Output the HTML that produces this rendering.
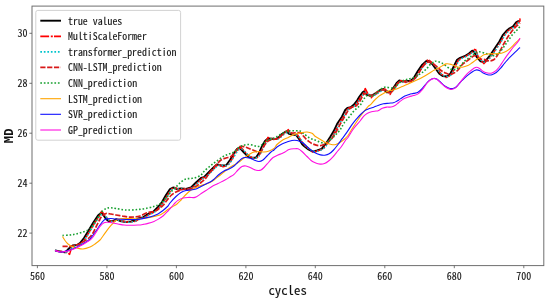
<!DOCTYPE html>
<html lang="en">
<head>
<meta charset="utf-8">
<title>MD prediction over cycles</title>
<style>
html,body{margin:0;padding:0;background:#fff;}
body{width:550px;height:301px;overflow:hidden;}
svg{display:block;}
svg text{font-family:"Noto Sans Mono CJK SC", "WenQuanYi Zen Hei Mono", "IPAGothic", "Liberation Mono", monospace;fill:#111;stroke:#111;stroke-width:0.1px;}
.tick text{font-size:10.6px;}
.legend text{font-size:10.4px;}
</style>
</head>
<body>
<svg width="550" height="301" viewBox="0 0 550 301">
<rect x="0" y="0" width="550" height="301" fill="#fff"/>
<g fill="none" stroke-linecap="butt">
<path d="M55.0,250.4 L60.0,251.5 L65.0,252.4 L67.5,250.0 L70.0,247.4 L73.0,245.4 L77.0,245.0 L80.0,243.0 L84.0,238.0 L88.0,231.4 L93.0,223.0 L98.0,215.5 L101.5,212.5 L104.0,216.0 L106.0,219.0 L109.0,221.5 L113.0,221.0 L116.0,219.2 L120.0,221.0 L126.0,222.0 L131.0,221.5 L136.0,220.0 L138.0,218.4 L143.0,217.4 L148.0,214.0 L153.0,212.0 L158.0,207.0 L162.0,202.0 L166.0,195.0 L170.0,189.0 L173.0,187.5 L177.0,189.0 L181.0,188.5 L186.0,189.0 L191.0,187.5 L196.0,182.5 L201.0,178.0 L204.0,177.2 L209.0,172.0 L214.0,167.0 L217.0,164.5 L221.0,165.5 L226.0,165.5 L230.0,160.0 L234.0,153.0 L237.0,149.0 L239.5,147.5 L244.0,152.5 L248.0,156.5 L252.0,158.0 L256.0,157.5 L259.0,153.0 L262.0,146.0 L265.0,141.0 L268.0,138.5 L272.0,138.7 L276.0,139.0 L279.0,137.0 L282.0,134.0 L285.0,132.0 L287.0,131.5 L288.5,133.5 L292.0,134.5 L296.0,135.0 L299.0,139.0 L302.0,144.0 L304.0,146.1 L308.4,149.4 L312.8,151.6 L317.2,150.5 L321.6,148.8 L326.0,143.4 L330.3,136.8 L333.6,131.3 L337.5,123.2 L341.9,116.7 L345.2,110.0 L347.4,107.9 L350.7,107.3 L354.0,104.6 L357.2,100.2 L359.3,96.7 L362.6,92.3 L364.2,91.2 L367.0,95.0 L371.4,95.6 L375.7,93.4 L380.1,90.1 L383.4,89.0 L386.7,92.3 L390.0,92.3 L393.3,87.9 L396.6,82.9 L399.3,80.5 L402.6,81.6 L407.0,81.0 L410.3,81.0 L413.6,78.3 L418.0,70.7 L422.3,64.6 L426.7,60.8 L428.9,61.3 L432.2,64.0 L435.5,68.5 L439.3,73.8 L442.6,76.0 L447.0,76.5 L450.3,73.8 L453.6,66.7 L456.8,60.1 L460.1,57.9 L464.5,56.2 L468.9,53.5 L472.2,50.7 L473.9,51.3 L476.6,56.8 L480.6,61.4 L483.9,62.0 L486.0,60.3 L490.5,54.8 L494.8,48.3 L499.2,41.7 L503.0,34.8 L506.3,31.0 L509.6,28.3 L512.8,26.7 L516.1,22.3 L518.3,21.2 L520.0,21.7" stroke="#000" stroke-width="1.9" stroke-linejoin="round"/>
<path d="M55.0,250.4 L61.6,251.5 L66.6,252.4 L69.6,254.4 L71.6,247.4 L74.6,245.4 L78.6,245.0 L81.6,243.0 L85.6,238.0 L89.6,231.4 L94.6,223.0 L99.6,215.5 L101.7,211.2 L105.6,216.0 L107.6,219.0 L110.6,221.5 L114.6,221.0 L117.6,219.2 L121.6,221.0 L127.6,222.0 L132.6,221.5 L136.0,221.2 L139.6,218.4 L144.6,217.4 L149.6,214.0 L154.6,212.0 L159.6,207.0 L163.6,202.0 L167.6,195.0 L171.6,189.0 L174.6,187.5 L180.0,190.0 L182.6,188.5 L187.6,189.0 L192.6,187.5 L197.6,182.5 L202.6,178.0 L205.6,177.2 L210.6,172.0 L215.6,167.0 L218.6,164.5 L223.0,166.8 L227.6,165.5 L231.6,160.0 L235.6,153.0 L238.6,149.0 L241.1,147.5 L245.6,152.5 L249.6,156.5 L253.6,158.0 L257.6,157.5 L260.6,153.0 L263.6,146.0 L268.0,137.3 L269.6,138.5 L273.6,138.7 L277.6,139.0 L280.6,137.0 L283.6,134.0 L286.6,132.0 L288.3,129.5 L290.1,133.5 L293.6,134.5 L297.6,135.0 L301.0,140.5 L303.6,144.0 L305.6,146.1 L310.0,149.4 L313.0,152.5 L318.8,150.5 L323.2,148.8 L327.6,143.4 L331.9,136.8 L335.2,131.3 L339.1,123.2 L343.5,116.7 L346.8,110.0 L349.0,107.9 L352.3,107.3 L355.6,104.6 L358.8,100.2 L360.9,96.7 L364.2,92.3 L365.2,88.4 L368.6,95.0 L371.3,97.7 L373.0,95.6 L377.3,93.4 L381.7,90.1 L385.0,89.0 L388.3,92.3 L390.0,94.5 L391.6,92.3 L394.9,87.9 L398.2,82.9 L400.9,80.5 L404.2,81.6 L406.0,82.5 L408.6,81.0 L411.9,81.0 L415.2,78.3 L419.6,70.7 L423.9,64.6 L428.3,59.5 L430.5,61.3 L433.8,64.0 L437.1,68.5 L440.9,73.8 L444.2,76.0 L446.0,77.5 L448.6,76.5 L451.9,73.8 L455.2,66.7 L458.4,60.1 L461.7,57.9 L466.1,56.2 L470.5,53.5 L473.8,50.7 L475.2,48.3 L478.2,56.8 L483.8,63.6 L485.5,62.0 L487.6,60.3 L492.1,54.8 L496.4,48.3 L500.8,41.7 L504.6,34.8 L507.9,31.0 L511.2,28.3 L514.4,26.7 L517.7,22.3 L519.9,21.2 L520.0,18.4" stroke="#ff0000" stroke-width="1.5" stroke-dasharray="8.8 1.7 2.0 1.2" stroke-linejoin="round"/>
<path d="M55.0,250.4 L56.5,250.6 L58.0,250.9 L59.5,251.3 L61.0,251.6 L62.5,251.9 L64.0,252.2 L65.5,252.4 L67.0,252.1 L68.5,251.1 L70.0,249.7 L71.5,248.3 L73.0,247.0 L74.5,246.2 L76.0,245.7 L77.5,245.4 L79.0,245.0 L80.5,244.2 L82.0,242.9 L83.5,241.3 L85.0,239.3 L86.5,237.2 L88.0,234.8 L89.5,232.3 L91.0,229.8 L92.5,227.3 L94.0,224.8 L95.5,222.5 L97.0,220.2 L98.5,217.9 L100.0,216.0 L101.5,214.4 L103.0,214.0 L104.5,214.6 L106.0,216.5 L107.5,218.5 L109.0,220.1 L110.5,221.1 L112.0,221.5 L113.5,221.5 L115.0,221.0 L116.5,220.4 L118.0,220.0 L119.5,220.2 L121.0,220.8 L122.5,221.3 L124.0,221.7 L125.5,221.9 L127.0,222.1 L128.5,222.2 L130.0,222.1 L131.5,221.9 L133.0,221.7 L134.5,221.3 L136.0,220.9 L137.5,220.2 L139.0,219.5 L140.5,218.8 L142.0,218.3 L143.5,218.0 L145.0,217.4 L146.5,216.6 L148.0,215.6 L149.5,214.7 L151.0,213.9 L152.5,213.3 L154.0,212.5 L155.5,211.5 L157.0,210.2 L158.5,208.7 L160.0,207.1 L161.5,205.3 L163.0,203.3 L164.5,201.1 L166.0,198.6 L167.5,196.1 L169.0,193.7 L170.5,191.4 L172.0,189.7 L173.5,188.5 L175.0,188.2 L176.5,188.4 L178.0,188.9 L179.5,189.1 L181.0,189.0 L182.5,188.9 L184.0,188.9 L185.5,189.1 L187.0,189.1 L188.5,189.0 L190.0,188.7 L191.5,188.2 L193.0,187.4 L194.5,186.2 L196.0,184.7 L197.5,183.2 L199.0,181.8 L200.5,180.5 L202.0,179.2 L203.5,178.3 L205.0,177.6 L206.5,176.6 L208.0,175.3 L209.5,173.8 L211.0,172.2 L212.5,170.7 L214.0,169.2 L215.5,167.8 L217.0,166.4 L218.5,165.5 L220.0,165.2 L221.5,165.4 L223.0,165.7 L224.5,165.8 L226.0,165.8 L227.5,165.3 L229.0,164.1 L230.5,162.2 L232.0,160.0 L233.5,157.5 L235.0,155.0 L236.5,152.6 L238.0,150.6 L239.5,149.2 L241.0,148.7 L242.5,149.3 L244.0,150.7 L245.5,152.3 L247.0,153.9 L248.5,155.4 L250.0,156.5 L251.5,157.4 L253.0,157.9 L254.5,158.1 L256.0,158.0 L257.5,157.3 L259.0,156.0 L260.5,153.6 L262.0,150.6 L263.5,147.5 L265.0,144.6 L266.5,142.3 L268.0,140.5 L269.5,139.5 L271.0,139.0 L272.5,138.9 L274.0,139.0 L275.5,139.1 L277.0,139.1 L278.5,138.7 L280.0,137.8 L281.5,136.6 L283.0,135.3 L284.5,134.0 L286.0,133.0 L287.5,132.3 L289.0,132.6 L290.5,133.3 L292.0,134.3 L293.5,134.6 L295.0,134.9 L296.5,135.2 L298.0,136.0 L299.5,137.4 L301.0,139.6 L302.5,141.9 L304.0,144.1 L305.5,145.9 L307.0,147.2 L308.5,148.4 L310.0,149.4 L311.5,150.3 L313.0,151.1 L314.5,151.5 L316.0,151.5 L317.5,151.2 L319.0,150.8 L320.5,150.3 L322.0,149.7 L323.5,148.7 L325.0,147.3 L326.5,145.4 L328.0,143.4 L329.5,141.2 L331.0,138.9 L332.5,136.5 L334.0,134.1 L335.5,131.4 L337.0,128.5 L338.5,125.5 L340.0,122.8 L341.5,120.4 L343.0,118.1 L344.5,115.4 L346.0,112.7 L347.5,110.3 L349.0,108.8 L350.5,108.1 L352.0,107.5 L353.5,106.7 L355.0,105.5 L356.5,103.9 L358.0,102.0 L359.5,99.7 L361.0,97.5 L362.5,95.3 L364.0,93.5 L365.5,92.6 L367.0,93.1 L368.5,94.3 L370.0,95.3 L371.5,95.7 L373.0,95.6 L374.5,95.2 L376.0,94.5 L377.5,93.6 L379.0,92.6 L380.5,91.5 L382.0,90.6 L383.5,89.9 L385.0,89.9 L386.5,90.6 L388.0,91.7 L389.5,92.4 L391.0,92.3 L392.5,91.4 L394.0,89.8 L395.5,87.7 L397.0,85.5 L398.5,83.5 L400.0,82.0 L401.5,81.4 L403.0,81.4 L404.5,81.7 L406.0,81.7 L407.5,81.5 L409.0,81.4 L410.5,81.3 L412.0,80.9 L413.5,80.2 L415.0,78.7 L416.5,76.7 L418.0,74.3 L419.5,71.8 L421.0,69.5 L422.5,67.3 L424.0,65.4 L425.5,63.8 L427.0,62.5 L428.5,61.7 L430.0,61.6 L431.5,62.3 L433.0,63.5 L434.5,65.0 L436.0,66.9 L437.5,69.0 L439.0,71.0 L440.5,72.9 L442.0,74.5 L443.5,75.5 L445.0,76.2 L446.5,76.5 L448.0,76.5 L449.5,76.0 L451.0,74.9 L452.5,72.9 L454.0,70.2 L455.5,67.0 L457.0,63.9 L458.5,61.4 L460.0,59.6 L461.5,58.6 L463.0,57.9 L464.5,57.2 L466.0,56.6 L467.5,55.8 L469.0,54.9 L470.5,53.9 L472.0,52.8 L473.5,51.9 L475.0,52.0 L476.5,53.5 L478.0,55.8 L479.5,58.1 L481.0,60.0 L482.5,61.2 L484.0,62.0 L485.5,61.8 L487.0,61.1 L488.5,59.7 L490.0,58.0 L491.5,56.1 L493.0,54.1 L494.5,51.9 L496.0,49.7 L497.5,47.4 L499.0,45.1 L500.5,42.8 L502.0,40.3 L503.5,37.7 L505.0,35.3 L506.5,33.3 L508.0,31.7 L509.5,30.3 L511.0,29.1 L512.5,28.2 L514.0,27.1 L515.5,25.7 L517.0,24.1 L518.5,22.6 L520.0,21.2" stroke="#00c4cc" stroke-width="1.5" stroke-dasharray="1.5 2.02"/>
<path d="M62.5,246.4 C63.2,246.4 65.2,246.4 66.5,246.4 C67.8,246.4 68.8,246.8 70.0,246.6 C71.2,246.4 72.7,245.8 74.0,245.5 C75.3,245.2 76.7,245.0 78.0,244.5 C79.3,244.0 80.7,243.2 82.0,242.5 C83.3,241.8 84.7,240.9 86.0,240.0 C87.3,239.1 88.8,238.2 90.0,237.0 C91.2,235.8 92.0,234.7 93.0,233.0 C94.0,231.3 95.0,229.0 96.0,227.0 C97.0,225.0 98.0,222.8 99.0,221.0 C100.0,219.2 100.8,217.2 102.0,216.0 C103.2,214.8 104.5,213.8 106.0,213.5 C107.5,213.2 109.3,213.8 111.0,214.0 C112.7,214.2 114.2,214.7 116.0,215.0 C117.8,215.3 120.0,215.7 122.0,216.0 C124.0,216.3 126.0,216.8 128.0,217.0 C130.0,217.2 132.0,217.2 134.0,217.0 C136.0,216.8 137.7,216.8 140.0,216.0 C142.3,215.2 145.7,213.2 148.0,212.5 C150.3,211.8 152.3,212.0 154.0,211.5 C155.7,211.0 156.5,210.5 158.0,209.5 C159.5,208.5 161.7,206.8 163.0,205.5 C164.3,204.2 164.7,203.1 166.0,201.4 C167.3,199.7 169.3,197.1 171.0,195.5 C172.7,193.9 174.3,192.9 176.0,192.0 C177.7,191.1 179.3,190.5 181.0,190.0 C182.7,189.5 184.3,189.2 186.0,189.0 C187.7,188.8 189.3,189.4 191.0,189.0 C192.7,188.6 194.3,187.6 196.0,186.5 C197.7,185.4 199.3,183.9 201.0,182.5 C202.7,181.1 204.7,179.5 206.0,178.0 C207.3,176.5 207.7,175.2 209.0,173.5 C210.3,171.8 212.7,169.1 214.0,167.5 C215.3,165.9 215.8,165.2 217.0,164.0 C218.2,162.8 219.5,161.0 221.0,160.0 C222.5,159.0 224.3,158.6 226.0,158.0 C227.7,157.4 229.5,157.5 231.0,156.5 C232.5,155.5 233.5,153.7 235.0,152.0 C236.5,150.3 238.3,147.3 240.0,146.5 C241.7,145.7 243.5,146.7 245.0,147.0 C246.5,147.3 247.5,147.9 249.0,148.5 C250.5,149.1 252.5,149.9 254.0,150.5 C255.5,151.1 256.8,151.8 258.0,152.0 C259.2,152.2 260.0,152.5 261.0,151.5 C262.0,150.5 262.8,147.8 264.0,146.0 C265.2,144.2 266.7,142.1 268.0,141.0 C269.3,139.9 270.5,140.0 272.0,139.6 C273.5,139.2 275.3,139.3 277.0,138.5 C278.7,137.7 280.3,136.2 282.0,135.0 C283.7,133.8 285.3,131.3 287.0,131.0 C288.7,130.7 290.3,132.8 292.0,133.0 C293.7,133.2 295.5,132.5 297.0,132.5 C298.5,132.5 299.8,132.3 301.0,133.0 C302.2,133.7 302.8,135.4 304.0,136.8 C305.2,138.2 306.9,140.0 308.4,141.2 C309.9,142.4 311.1,143.2 312.8,143.9 C314.5,144.6 316.7,145.4 318.3,145.6 C319.9,145.8 321.4,145.4 322.7,145.0 C324.0,144.6 324.6,144.4 326.0,143.4 C327.4,142.4 329.8,140.8 331.4,139.0 C333.0,137.2 334.2,135.1 335.8,132.5 C337.4,129.9 339.2,126.0 340.8,123.2 C342.4,120.4 343.9,117.8 345.2,115.6 C346.5,113.4 347.2,111.5 348.5,110.0 C349.8,108.5 351.5,107.5 352.8,106.8 C354.1,106.1 355.0,106.5 356.1,105.7 C357.2,104.9 358.1,103.9 359.4,102.0 C360.7,100.1 362.4,95.9 363.7,94.5 C365.0,93.1 365.7,93.2 367.0,93.4 C368.3,93.6 369.8,95.8 371.4,95.6 C373.0,95.4 375.0,93.3 376.8,92.3 C378.6,91.3 380.7,89.7 382.3,89.5 C383.9,89.3 385.2,90.7 386.7,91.2 C388.2,91.7 389.6,93.4 391.1,92.5 C392.6,91.6 394.0,87.5 395.5,85.7 C397.0,83.9 398.4,82.3 400.0,81.5 C401.6,80.7 403.3,81.0 405.0,81.0 C406.7,81.0 408.5,82.2 410.3,81.6 C412.1,81.0 414.2,79.0 415.8,77.2 C417.4,75.4 418.7,72.8 420.1,70.7 C421.6,68.6 423.0,66.1 424.5,64.6 C426.0,63.1 427.6,62.1 428.9,61.9 C430.2,61.7 430.9,62.8 432.2,63.5 C433.5,64.2 435.2,65.2 436.6,66.3 C438.0,67.4 439.0,68.9 440.4,70.0 C441.8,71.1 443.3,72.0 444.8,72.7 C446.3,73.4 447.7,74.2 449.2,74.3 C450.7,74.4 452.1,73.9 453.6,73.2 C455.1,72.5 456.6,71.5 458.0,70.0 C459.4,68.5 460.9,66.0 462.3,64.5 C463.8,63.0 465.2,62.3 466.7,61.2 C468.2,60.1 469.8,58.8 471.1,57.9 C472.4,57.0 473.3,55.8 474.4,55.7 C475.5,55.6 476.6,56.8 477.7,57.3 C478.8,57.8 479.8,58.6 481.0,59.0 C482.2,59.4 483.6,59.3 485.0,59.6 C486.4,59.9 487.9,60.9 489.4,60.9 C490.8,60.9 492.4,60.6 493.7,59.8 C495.0,59.0 495.7,57.8 497.0,55.9 C498.3,54.0 500.0,50.8 501.4,48.3 C502.8,45.8 504.1,43.1 505.5,40.8 C506.9,38.5 508.2,36.3 509.6,34.3 C511.0,32.3 512.5,30.4 513.9,28.8 C515.3,27.2 517.3,25.5 518.3,24.5 C519.3,23.5 519.7,23.1 520.0,22.8" stroke="#d81818" stroke-width="1.7" stroke-dasharray="5.2 1.64"/>
<path d="M62.5,235.5 C63.8,235.4 67.8,235.2 70.0,235.0 C72.2,234.8 73.8,234.5 76.0,234.0 C78.2,233.5 80.7,232.8 83.0,232.0 C85.3,231.2 88.0,230.7 90.0,229.0 C92.0,227.3 93.3,224.4 95.0,222.0 C96.7,219.6 98.7,216.4 100.0,214.5 C101.3,212.6 101.8,211.6 103.0,210.5 C104.2,209.4 105.7,208.6 107.0,208.2 C108.3,207.8 109.5,207.8 111.0,207.8 C112.5,207.9 113.5,208.1 116.0,208.5 C118.5,208.9 122.3,209.8 126.0,210.0 C129.7,210.2 134.3,209.8 138.0,209.5 C141.7,209.2 145.2,208.6 148.0,208.0 C150.8,207.4 153.0,206.7 155.0,206.0 C157.0,205.3 158.2,205.3 160.0,204.0 C161.8,202.7 164.2,200.0 166.0,198.0 C167.8,196.0 169.3,193.8 171.0,192.0 C172.7,190.2 174.3,188.7 176.0,187.0 C177.7,185.3 179.3,183.3 181.0,182.0 C182.7,180.7 184.3,179.6 186.0,179.0 C187.7,178.4 189.3,178.8 191.0,178.5 C192.7,178.2 194.3,178.1 196.0,177.5 C197.7,176.9 199.7,176.0 201.0,175.0 C202.3,174.0 202.7,172.8 204.0,171.5 C205.3,170.2 207.3,168.4 209.0,167.0 C210.7,165.6 212.3,164.2 214.0,163.0 C215.7,161.8 217.3,160.7 219.0,159.5 C220.7,158.3 222.3,156.9 224.0,156.0 C225.7,155.1 227.3,154.7 229.0,154.0 C230.7,153.3 232.3,153.1 234.0,152.0 C235.7,150.9 237.5,148.6 239.0,147.5 C240.5,146.4 241.7,146.0 243.0,145.5 C244.3,145.0 245.5,144.6 247.0,144.5 C248.5,144.4 250.3,144.7 252.0,145.0 C253.7,145.3 255.5,146.4 257.0,146.5 C258.5,146.6 259.8,146.1 261.0,145.5 C262.2,144.9 262.8,143.9 264.0,143.0 C265.2,142.1 266.7,140.7 268.0,140.0 C269.3,139.3 270.7,139.5 272.0,139.0 C273.3,138.5 274.3,137.9 276.0,137.0 C277.7,136.1 280.0,134.5 282.0,133.5 C284.0,132.5 286.0,131.4 288.0,131.0 C290.0,130.6 292.0,130.8 294.0,130.8 C296.0,130.8 298.3,130.5 300.0,131.0 C301.7,131.5 302.4,132.7 304.0,133.8 C305.6,135.0 307.7,136.9 309.5,137.9 C311.3,138.9 313.2,139.3 315.0,140.0 C316.8,140.7 318.9,141.8 320.5,142.3 C322.1,142.8 323.4,143.1 324.8,142.8 C326.2,142.5 327.7,141.6 329.2,140.6 C330.7,139.6 332.1,138.2 333.6,136.8 C335.1,135.4 336.7,133.9 338.0,132.4 C339.3,130.9 340.3,129.5 341.3,128.0 C342.3,126.5 342.8,124.9 344.0,123.2 C345.2,121.5 347.0,119.6 348.5,117.8 C350.0,116.0 351.4,113.9 352.8,112.3 C354.2,110.7 355.9,109.2 357.2,108.0 C358.5,106.8 359.5,106.2 360.4,105.0 C361.3,103.8 361.9,102.2 362.6,101.0 C363.3,99.8 364.1,98.6 364.8,97.7 C365.5,96.8 365.7,95.8 367.0,95.6 C368.3,95.3 370.7,96.9 372.5,96.2 C374.3,95.5 376.0,92.7 378.0,91.2 C380.0,89.7 382.5,87.8 384.5,87.3 C386.5,86.8 388.5,87.8 390.0,87.9 C391.5,88.0 392.2,88.4 393.3,88.0 C394.4,87.6 395.5,86.6 396.6,85.7 C397.7,84.8 398.6,83.4 400.0,82.4 C401.4,81.5 403.3,80.6 404.8,80.0 C406.3,79.4 407.6,79.4 409.2,78.9 C410.8,78.4 412.9,78.0 414.7,77.2 C416.5,76.4 418.5,75.0 420.1,73.9 C421.7,72.8 423.2,71.8 424.5,70.7 C425.8,69.6 426.7,68.6 427.8,67.4 C428.9,66.2 430.0,64.4 431.1,63.5 C432.2,62.6 433.6,62.3 434.4,61.9 C435.2,61.5 434.8,61.1 436.0,61.2 C437.2,61.4 439.7,61.9 441.5,62.8 C443.3,63.7 445.4,65.6 447.0,66.7 C448.6,67.8 449.9,69.0 451.4,69.4 C452.8,69.9 454.2,70.0 455.7,69.4 C457.1,68.9 458.6,67.5 460.1,66.1 C461.6,64.7 463.0,62.6 464.5,61.2 C466.0,59.8 467.4,59.0 468.9,57.9 C470.4,56.8 472.0,55.5 473.3,54.6 C474.6,53.7 475.6,52.9 476.6,52.4 C477.6,51.9 478.1,51.7 479.5,51.8 C480.9,51.9 483.2,52.6 485.0,53.2 C486.8,53.8 488.9,55.0 490.5,55.4 C492.1,55.8 493.4,55.8 494.8,55.4 C496.2,55.0 497.7,54.1 499.2,52.7 C500.7,51.3 502.1,49.2 503.6,47.2 C505.1,45.2 506.5,42.9 508.0,40.8 C509.5,38.6 511.4,35.9 512.8,34.3 C514.1,32.7 515.1,32.1 516.1,31.0 C517.1,29.9 518.2,28.6 518.9,27.8 C519.5,27.1 519.8,26.7 520.0,26.5" stroke="#18a030" stroke-width="1.6" stroke-dasharray="1.6 1.92"/>
<path d="M62.5,236.5 C62.9,237.2 64.1,239.2 65.0,240.5 C65.9,241.8 66.8,243.0 68.0,244.0 C69.2,245.0 70.5,245.7 72.0,246.4 C73.5,247.1 75.2,247.6 77.0,248.0 C78.8,248.4 80.8,249.2 83.0,249.0 C85.2,248.8 88.0,247.8 90.0,247.0 C92.0,246.2 93.3,245.2 95.0,244.0 C96.7,242.8 98.7,241.3 100.0,240.0 C101.3,238.7 101.8,237.6 103.0,236.0 C104.2,234.4 105.7,232.2 107.0,230.4 C108.3,228.6 109.7,226.9 111.0,225.4 C112.3,223.9 113.8,222.3 115.0,221.3 C116.2,220.3 116.8,219.8 118.0,219.3 C119.2,218.8 120.3,218.6 122.0,218.5 C123.7,218.4 125.3,218.4 128.0,218.5 C130.7,218.6 134.7,218.9 138.0,218.8 C141.3,218.7 145.3,218.1 148.0,217.7 C150.7,217.3 152.0,216.8 154.0,216.4 C156.0,216.0 158.3,215.7 160.0,215.0 C161.7,214.3 162.7,213.4 164.0,212.5 C165.3,211.6 166.7,210.4 168.0,209.5 C169.3,208.6 170.5,207.9 172.0,207.0 C173.5,206.1 175.5,205.2 177.0,204.0 C178.5,202.8 179.5,201.6 181.0,200.0 C182.5,198.4 184.3,196.2 186.0,194.5 C187.7,192.8 189.3,191.2 191.0,190.0 C192.7,188.8 194.3,188.2 196.0,187.5 C197.7,186.8 199.3,186.1 201.0,185.5 C202.7,184.9 204.5,184.5 206.0,184.0 C207.5,183.5 208.7,183.2 210.0,182.5 C211.3,181.8 212.5,181.1 214.0,180.0 C215.5,178.9 217.3,177.3 219.0,176.0 C220.7,174.7 222.3,173.3 224.0,172.0 C225.7,170.7 227.3,169.2 229.0,168.0 C230.7,166.8 232.3,166.0 234.0,165.0 C235.7,164.0 237.3,163.2 239.0,162.0 C240.7,160.8 242.3,159.2 244.0,158.0 C245.7,156.8 247.3,155.5 249.0,154.5 C250.7,153.5 252.3,152.5 254.0,152.0 C255.7,151.5 257.3,151.5 259.0,151.5 C260.7,151.5 262.3,152.1 264.0,152.0 C265.7,151.9 267.3,151.6 269.0,151.0 C270.7,150.4 272.7,149.6 274.0,148.5 C275.3,147.4 275.7,145.8 277.0,144.5 C278.3,143.2 280.3,141.6 282.0,140.5 C283.7,139.4 285.3,138.8 287.0,138.0 C288.7,137.2 290.3,136.2 292.0,135.5 C293.7,134.8 295.3,134.0 297.0,133.5 C298.7,133.0 300.3,132.8 302.0,132.5 C303.7,132.2 305.3,131.9 307.0,132.0 C308.7,132.1 310.7,132.6 312.0,133.3 C313.3,134.0 313.6,135.2 315.0,136.2 C316.4,137.2 318.7,138.4 320.5,139.5 C322.3,140.6 324.2,142.0 326.0,142.8 C327.8,143.6 329.8,144.2 331.4,144.5 C333.0,144.8 334.3,144.9 335.8,144.5 C337.3,144.1 338.7,143.2 340.2,142.3 C341.7,141.4 343.3,140.1 344.6,139.0 C345.9,137.9 347.0,136.8 348.0,135.5 C349.0,134.2 349.5,132.9 350.7,131.0 C351.9,129.1 353.6,126.5 355.0,124.3 C356.4,122.1 357.9,119.8 359.4,117.7 C360.9,115.6 362.3,113.6 363.8,111.7 C365.3,109.8 367.1,107.4 368.2,106.3 C369.3,105.2 369.2,106.0 370.3,104.9 C371.4,103.9 373.2,101.5 374.7,100.0 C376.1,98.5 377.6,97.2 379.0,96.1 C380.4,95.0 381.9,94.2 383.4,93.4 C384.9,92.6 386.3,91.8 387.8,91.2 C389.3,90.7 390.7,90.5 392.2,90.1 C393.7,89.7 395.1,89.5 396.6,89.0 C398.2,88.5 399.8,87.5 401.5,86.8 C403.2,86.1 405.2,85.4 407.0,84.6 C408.8,83.8 410.7,82.7 412.5,81.9 C414.3,81.1 416.2,80.4 418.0,79.6 C419.8,78.8 421.6,77.8 423.4,76.8 C425.2,75.8 427.1,74.6 428.9,73.5 C430.7,72.4 432.5,71.1 434.4,70.1 C436.2,69.1 438.1,68.3 440.0,67.3 C441.9,66.3 444.0,64.4 445.9,63.9 C447.8,63.4 449.6,64.0 451.4,64.5 C453.2,65.0 455.0,66.2 456.8,66.7 C458.6,67.2 460.5,67.4 462.3,67.2 C464.1,67.0 466.2,66.3 467.8,65.6 C469.4,64.9 470.7,63.8 472.2,62.8 C473.7,61.8 475.3,60.4 476.6,59.5 C477.9,58.6 478.8,58.3 480.0,57.5 C481.2,56.7 482.3,55.4 483.9,54.8 C485.5,54.2 487.4,53.9 489.4,53.7 C491.4,53.5 493.9,53.8 495.9,53.7 C497.9,53.6 499.8,53.6 501.4,53.2 C503.0,52.9 504.3,52.4 505.8,51.6 C507.3,50.8 508.7,49.6 510.2,48.3 C511.7,47.0 513.3,45.2 514.6,43.9 C515.9,42.6 517.1,41.5 518.0,40.6 C518.9,39.7 519.7,38.9 520.0,38.5" stroke="#ffa500" stroke-width="1.1"/>
<path d="M55.0,250.4 C55.8,250.7 58.3,251.8 60.0,252.0 C61.7,252.2 63.3,251.7 65.0,251.4 C66.7,251.1 68.3,250.6 70.0,250.0 C71.7,249.4 73.3,248.8 75.0,248.0 C76.7,247.2 78.3,246.4 80.0,245.5 C81.7,244.6 83.3,243.6 85.0,242.5 C86.7,241.4 88.2,240.9 90.0,239.0 C91.8,237.1 94.3,233.3 96.0,231.0 C97.7,228.7 98.7,226.8 100.0,225.0 C101.3,223.2 102.8,221.2 104.0,220.2 C105.2,219.2 105.8,219.1 107.0,218.8 C108.2,218.5 109.5,218.5 111.0,218.5 C112.5,218.5 113.5,218.8 116.0,219.0 C118.5,219.2 122.7,219.4 126.0,219.5 C129.3,219.6 134.0,219.5 136.0,219.5 C138.0,219.5 136.0,219.8 138.0,219.4 C140.0,219.1 145.5,218.0 148.0,217.4 C150.5,216.8 151.3,216.6 153.0,216.0 C154.7,215.4 156.3,214.9 158.0,214.0 C159.7,213.1 161.3,211.8 163.0,210.5 C164.7,209.2 166.8,207.2 168.0,206.0 C169.2,204.8 168.7,204.6 170.0,203.0 C171.3,201.4 174.2,198.2 176.0,196.5 C177.8,194.8 179.3,193.5 181.0,192.5 C182.7,191.5 184.3,190.9 186.0,190.5 C187.7,190.1 189.3,190.2 191.0,190.0 C192.7,189.8 194.3,189.6 196.0,189.0 C197.7,188.4 199.3,187.3 201.0,186.5 C202.7,185.7 204.5,184.8 206.0,184.0 C207.5,183.2 208.8,182.7 210.0,182.0 C211.2,181.3 211.5,181.2 213.0,180.0 C214.5,178.8 217.2,176.0 219.0,174.5 C220.8,173.0 222.3,171.9 224.0,171.0 C225.7,170.1 227.3,169.8 229.0,169.0 C230.7,168.2 232.5,167.2 234.0,166.0 C235.5,164.8 236.7,163.2 238.0,162.0 C239.3,160.8 240.8,159.2 242.0,158.5 C243.2,157.8 243.8,157.6 245.0,157.5 C246.2,157.4 247.5,157.6 249.0,158.0 C250.5,158.4 252.3,159.4 254.0,160.0 C255.7,160.6 257.5,161.5 259.0,161.5 C260.5,161.5 261.7,160.9 263.0,160.0 C264.3,159.1 265.7,157.3 267.0,156.0 C268.3,154.7 269.8,153.0 271.0,152.0 C272.2,151.0 273.0,150.8 274.0,150.0 C275.0,149.2 275.7,148.0 277.0,147.0 C278.3,146.0 280.3,144.8 282.0,144.0 C283.7,143.2 285.3,142.6 287.0,142.0 C288.7,141.4 290.3,140.8 292.0,140.5 C293.7,140.2 295.7,140.3 297.0,140.5 C298.3,140.7 298.8,141.0 300.0,141.5 C301.2,142.0 302.4,142.5 304.0,143.7 C305.6,144.9 307.7,147.3 309.5,148.8 C311.3,150.3 313.2,151.7 315.0,152.7 C316.8,153.7 318.9,154.5 320.5,154.9 C322.1,155.3 323.4,155.4 324.8,155.2 C326.2,155.0 327.7,154.7 329.2,153.8 C330.7,152.9 332.1,151.6 333.6,150.0 C335.1,148.4 336.5,146.4 338.0,144.5 C339.5,142.6 340.9,140.4 342.4,138.4 C343.9,136.4 345.2,134.7 346.8,132.4 C348.4,130.2 350.2,127.1 351.8,124.9 C353.4,122.7 354.7,121.1 356.1,119.4 C357.6,117.7 359.0,116.0 360.5,114.5 C362.0,113.0 363.4,111.6 364.9,110.6 C366.4,109.6 367.8,109.2 369.3,108.6 C370.8,108.0 372.2,107.7 373.7,107.2 C375.1,106.7 376.4,106.0 378.0,105.4 C379.6,104.8 381.6,104.2 383.4,103.8 C385.2,103.4 387.4,103.4 389.0,103.2 C390.6,103.0 392.0,103.0 393.3,102.7 C394.6,102.4 395.4,101.9 396.6,101.3 C397.8,100.7 399.0,99.8 400.4,98.9 C401.8,98.0 403.3,96.8 404.8,96.1 C406.3,95.4 407.7,95.0 409.2,94.5 C410.7,94.0 412.1,93.8 413.6,93.4 C415.1,93.0 416.6,93.1 418.0,92.3 C419.4,91.5 420.9,90.0 422.3,88.5 C423.8,87.0 425.4,84.4 426.7,83.0 C428.0,81.6 428.9,80.7 430.0,79.9 C431.1,79.2 432.2,78.7 433.3,78.5 C434.4,78.3 435.4,78.4 436.6,79.0 C437.8,79.6 439.0,80.8 440.4,82.0 C441.8,83.2 443.3,85.0 444.8,86.0 C446.3,87.0 447.9,87.8 449.2,88.2 C450.5,88.6 451.4,88.7 452.5,88.5 C453.6,88.3 454.5,88.2 455.8,87.2 C457.1,86.2 458.7,84.0 460.1,82.5 C461.6,81.0 463.0,79.4 464.5,78.1 C466.0,76.8 467.4,75.6 468.9,74.4 C470.4,73.2 472.0,72.0 473.3,71.2 C474.6,70.5 475.5,70.0 476.6,69.9 C477.7,69.8 478.8,70.3 479.9,70.8 C481.0,71.3 481.9,72.3 483.2,73.0 C484.5,73.7 486.2,74.4 487.6,74.7 C489.1,75.0 490.4,75.1 491.9,74.7 C493.3,74.3 494.8,73.6 496.3,72.5 C497.8,71.4 499.2,69.8 500.7,68.1 C502.2,66.4 503.6,64.3 505.1,62.6 C506.6,60.9 508.0,59.2 509.5,57.7 C511.0,56.2 512.5,54.7 513.9,53.3 C515.3,51.9 517.0,50.4 518.0,49.4 C519.0,48.4 519.7,47.8 520.0,47.5" stroke="#1010ff" stroke-width="1.1"/>
<path d="M55.0,250.4 C55.8,250.7 58.3,251.8 60.0,252.0 C61.7,252.2 63.3,251.9 65.0,251.6 C66.7,251.3 68.3,250.8 70.0,250.3 C71.7,249.8 73.3,249.1 75.0,248.4 C76.7,247.7 78.3,246.9 80.0,246.0 C81.7,245.1 83.3,244.2 85.0,243.2 C86.7,242.2 88.7,241.0 90.0,240.0 C91.3,239.0 92.0,238.3 93.0,237.0 C94.0,235.7 94.8,234.2 96.0,232.4 C97.2,230.6 98.7,228.0 100.0,226.4 C101.3,224.8 102.7,223.4 104.0,222.7 C105.3,222.0 106.5,222.2 108.0,222.3 C109.5,222.4 111.3,222.7 113.0,223.0 C114.7,223.3 116.2,223.7 118.0,224.0 C119.8,224.3 122.0,224.8 124.0,225.0 C126.0,225.2 127.7,225.2 130.0,225.2 C132.3,225.2 135.8,225.1 138.0,225.0 C140.2,224.9 141.3,224.7 143.0,224.4 C144.7,224.1 146.2,223.9 148.0,223.4 C149.8,222.9 152.3,222.1 154.0,221.4 C155.7,220.7 156.5,220.3 158.0,219.4 C159.5,218.5 161.3,217.4 163.0,216.0 C164.7,214.6 166.5,212.6 168.0,211.0 C169.5,209.4 170.8,207.8 172.0,206.5 C173.2,205.2 174.0,204.0 175.0,203.0 C176.0,202.0 176.7,201.2 178.0,200.4 C179.3,199.6 181.2,198.5 183.0,198.0 C184.8,197.5 187.0,197.5 189.0,197.4 C191.0,197.3 193.2,197.9 195.0,197.4 C196.8,196.9 198.2,195.6 200.0,194.4 C201.8,193.2 204.0,191.8 206.0,190.5 C208.0,189.2 210.0,187.7 212.0,186.5 C214.0,185.3 215.8,184.6 218.0,183.5 C220.2,182.4 223.0,181.1 225.0,180.0 C227.0,178.9 228.5,177.9 230.0,177.0 C231.5,176.1 232.7,175.6 234.0,174.4 C235.3,173.2 236.7,171.3 238.0,170.0 C239.3,168.7 240.7,167.2 242.0,166.5 C243.3,165.8 244.7,165.8 246.0,166.0 C247.3,166.2 248.7,166.9 250.0,167.5 C251.3,168.1 252.7,169.0 254.0,169.5 C255.3,170.0 256.8,170.4 258.0,170.5 C259.2,170.6 260.0,170.5 261.0,170.0 C262.0,169.5 262.8,168.7 264.0,167.5 C265.2,166.3 266.7,164.5 268.0,163.0 C269.3,161.5 271.0,159.5 272.0,158.5 C273.0,157.5 273.0,157.6 274.0,157.0 C275.0,156.4 276.7,155.6 278.0,155.0 C279.3,154.4 280.8,154.0 282.0,153.5 C283.2,153.0 283.8,152.7 285.0,152.0 C286.2,151.3 287.5,150.0 289.0,149.5 C290.5,149.0 292.5,148.9 294.0,148.8 C295.5,148.7 296.7,148.4 298.0,148.8 C299.3,149.2 300.5,150.2 302.0,151.5 C303.5,152.8 305.4,154.9 307.0,156.5 C308.6,158.1 309.9,159.7 311.4,160.8 C312.8,161.9 314.2,162.4 315.7,163.0 C317.1,163.6 318.6,164.0 320.1,164.1 C321.6,164.2 323.0,164.1 324.5,163.6 C326.0,163.1 327.4,162.0 328.9,160.8 C330.4,159.6 331.8,158.1 333.3,156.5 C334.8,154.9 336.4,152.6 337.7,151.0 C339.0,149.4 340.0,148.5 341.3,146.7 C342.6,144.9 344.6,141.5 345.7,140.0 C346.8,138.5 346.8,139.2 348.0,137.5 C349.2,135.8 351.3,132.0 352.8,129.8 C354.3,127.6 355.9,125.8 357.2,124.3 C358.5,122.8 359.4,121.9 360.5,120.5 C361.6,119.1 362.7,117.3 363.8,116.1 C364.9,114.9 365.8,114.1 367.1,113.4 C368.4,112.7 370.0,112.1 371.5,111.7 C373.0,111.3 374.9,111.2 376.0,111.0 C377.1,110.8 376.9,111.3 378.0,110.8 C379.1,110.3 380.9,108.8 382.3,108.2 C383.8,107.6 385.2,107.3 386.7,107.1 C388.2,106.9 389.6,107.3 391.1,107.0 C392.6,106.7 394.4,105.8 395.5,105.2 C396.6,104.6 396.9,104.1 397.7,103.4 C398.5,102.7 399.2,101.9 400.4,101.1 C401.6,100.2 403.3,99.0 404.8,98.3 C406.3,97.6 407.7,97.2 409.2,96.7 C410.7,96.2 412.1,96.1 413.6,95.6 C415.1,95.1 416.6,94.9 418.0,93.9 C419.4,92.9 420.9,91.3 422.3,89.6 C423.8,87.9 425.4,85.1 426.7,83.5 C428.0,81.9 428.9,81.0 430.0,80.2 C431.1,79.4 432.2,78.8 433.3,78.6 C434.4,78.4 435.4,78.4 436.6,79.1 C437.8,79.8 439.0,81.3 440.4,82.5 C441.8,83.7 443.3,85.4 444.8,86.5 C446.3,87.6 447.9,88.4 449.2,88.9 C450.5,89.4 451.4,89.5 452.5,89.3 C453.6,89.1 454.5,88.9 455.8,87.7 C457.1,86.5 458.7,84.1 460.1,82.3 C461.6,80.5 463.0,78.5 464.5,76.8 C466.0,75.1 467.4,73.5 468.9,72.2 C470.4,70.9 472.0,69.5 473.3,68.7 C474.6,67.9 475.5,67.2 476.6,67.2 C477.7,67.2 478.8,68.0 479.9,68.7 C481.0,69.4 481.9,70.7 483.2,71.4 C484.5,72.1 486.2,72.7 487.6,73.0 C489.1,73.3 490.4,73.5 491.9,73.0 C493.3,72.5 495.0,71.4 496.3,70.3 C497.6,69.2 498.5,68.0 499.6,66.5 C500.7,65.0 501.8,63.1 502.9,61.5 C504.0,59.9 505.1,58.1 506.2,56.6 C507.3,55.1 508.4,53.7 509.5,52.2 C510.6,50.7 511.8,49.0 513.0,47.5 C514.2,46.0 515.6,44.6 516.5,43.5 C517.4,42.4 517.9,41.9 518.5,41.0 C519.1,40.1 519.8,38.7 520.0,38.2" stroke="#ff10e0" stroke-width="1.1"/>
</g>
<rect x="32.0" y="6.1" width="511.79999999999995" height="259.5" fill="none" stroke="#6e6e6e" stroke-width="1"/>
<g stroke="#555" stroke-width="0.8"><line x1="37.4" y1="265.6" x2="37.4" y2="268.20000000000005"/><line x1="106.9" y1="265.6" x2="106.9" y2="268.20000000000005"/><line x1="176.4" y1="265.6" x2="176.4" y2="268.20000000000005"/><line x1="245.9" y1="265.6" x2="245.9" y2="268.20000000000005"/><line x1="315.3" y1="265.6" x2="315.3" y2="268.20000000000005"/><line x1="384.8" y1="265.6" x2="384.8" y2="268.20000000000005"/><line x1="454.3" y1="265.6" x2="454.3" y2="268.20000000000005"/><line x1="523.8" y1="265.6" x2="523.8" y2="268.20000000000005"/><line x1="32.0" y1="233.1" x2="29.4" y2="233.1"/><line x1="32.0" y1="183.2" x2="29.4" y2="183.2"/><line x1="32.0" y1="133.2" x2="29.4" y2="133.2"/><line x1="32.0" y1="83.3" x2="29.4" y2="83.3"/><line x1="32.0" y1="33.3" x2="29.4" y2="33.3"/></g>
<g class="tick"><text x="29.9" y="279.5" textLength="15" lengthAdjust="spacingAndGlyphs">560</text><text x="99.4" y="279.5" textLength="15" lengthAdjust="spacingAndGlyphs">580</text><text x="168.9" y="279.5" textLength="15" lengthAdjust="spacingAndGlyphs">600</text><text x="238.4" y="279.5" textLength="15" lengthAdjust="spacingAndGlyphs">620</text><text x="307.8" y="279.5" textLength="15" lengthAdjust="spacingAndGlyphs">640</text><text x="377.3" y="279.5" textLength="15" lengthAdjust="spacingAndGlyphs">660</text><text x="446.8" y="279.5" textLength="15" lengthAdjust="spacingAndGlyphs">680</text><text x="516.3" y="279.5" textLength="15" lengthAdjust="spacingAndGlyphs">700</text><text x="17.4" y="237.1" textLength="10" lengthAdjust="spacingAndGlyphs">22</text><text x="17.4" y="187.2" textLength="10" lengthAdjust="spacingAndGlyphs">24</text><text x="17.4" y="137.2" textLength="10" lengthAdjust="spacingAndGlyphs">26</text><text x="17.4" y="87.3" textLength="10" lengthAdjust="spacingAndGlyphs">28</text><text x="17.4" y="37.3" textLength="10" lengthAdjust="spacingAndGlyphs">30</text></g>
<text x="268.4" y="294.9" font-size="12.8" textLength="38.4" lengthAdjust="spacingAndGlyphs">cycles</text>
<text transform="translate(13.1,135.8) rotate(-90)" text-anchor="middle" font-size="12.2" font-weight="bold" fill="#000" style="font-family:'DejaVu Sans Mono','Liberation Mono',monospace;stroke:none">MD</text>
<g class="legend">
<rect x="35.8" y="10.4" width="144.8" height="129.8" rx="2" ry="2" fill="#fff" fill-opacity="0.8" stroke="#d2d2d2" stroke-width="1"/>
<line x1="40.3" y1="20.7" x2="61.0" y2="20.7" stroke="#000" stroke-width="1.9"/><text x="68.1" y="24.6" textLength="54.2" lengthAdjust="spacingAndGlyphs">true values</text>
<line x1="40.3" y1="36.3" x2="61.0" y2="36.3" stroke="#ff0000" stroke-width="1.7" stroke-dasharray="8.8 1.7 2.0 1.2"/><text x="68.1" y="40.1" textLength="78.8" lengthAdjust="spacingAndGlyphs">MultiScaleFormer</text>
<line x1="40.3" y1="51.9" x2="61.0" y2="51.9" stroke="#00c4cc" stroke-width="1.7" stroke-dasharray="1.7 1.82"/><text x="68.1" y="55.8" textLength="108.3" lengthAdjust="spacingAndGlyphs">transformer_prediction</text>
<line x1="40.3" y1="67.4" x2="61.0" y2="67.4" stroke="#d81818" stroke-width="1.7" stroke-dasharray="5.2 1.64"/><text x="68.1" y="71.2" textLength="93.6" lengthAdjust="spacingAndGlyphs">CNN-LSTM_prediction</text>
<line x1="40.3" y1="83.0" x2="61.0" y2="83.0" stroke="#18a030" stroke-width="1.7" stroke-dasharray="1.7 1.82"/><text x="68.1" y="86.8" textLength="69.0" lengthAdjust="spacingAndGlyphs">CNN_prediction</text>
<line x1="40.3" y1="98.7" x2="61.0" y2="98.7" stroke="#ffa500" stroke-width="1.1"/><text x="68.1" y="102.5" textLength="73.9" lengthAdjust="spacingAndGlyphs">LSTM_prediction</text>
<line x1="40.3" y1="114.3" x2="61.0" y2="114.3" stroke="#1010ff" stroke-width="1.1"/><text x="68.1" y="118.1" textLength="69.0" lengthAdjust="spacingAndGlyphs">SVR_prediction</text>
<line x1="40.3" y1="130.0" x2="61.0" y2="130.0" stroke="#ff10e0" stroke-width="1.1"/><text x="68.1" y="133.8" textLength="64.0" lengthAdjust="spacingAndGlyphs">GP_prediction</text>
</g>
</svg>
</body>
</html>
